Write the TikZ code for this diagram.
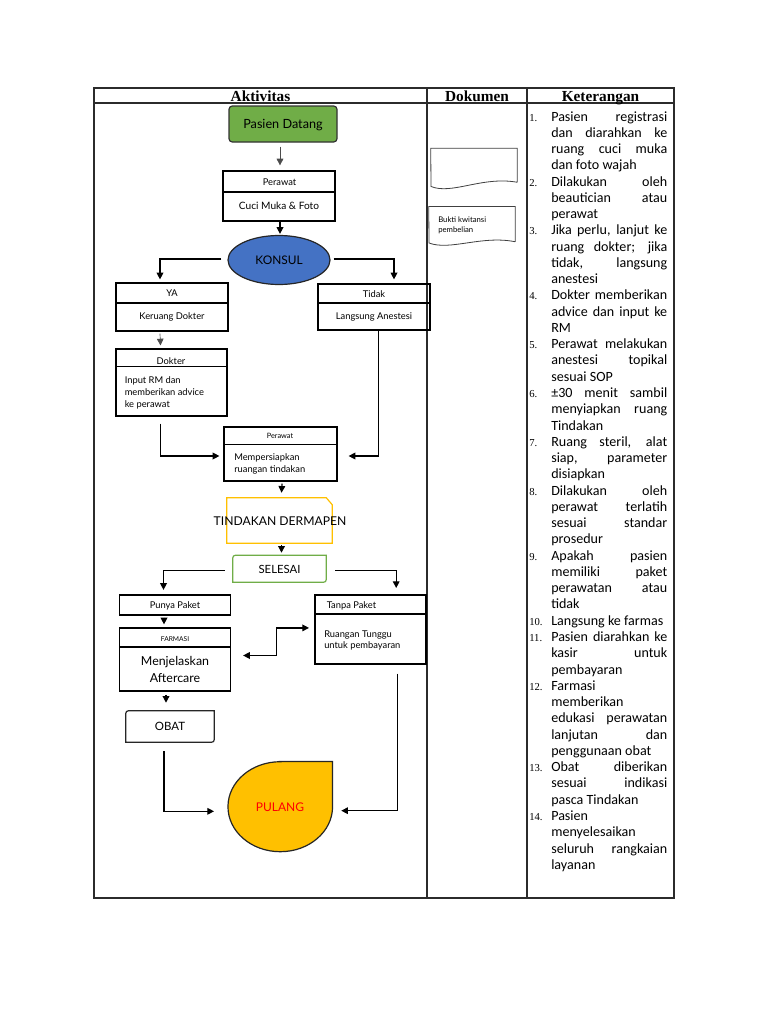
\documentclass[tikz,border=0pt]{standalone}
\usepackage{fontspec}
\setmainfont{Carlito}
\newfontfamily\lato{Lato}
\newfontfamily\tnr{Liberation Serif}
\usetikzlibrary{arrows.meta,calc,fit,shapes.geometric}
\definecolor{gfill}{HTML}{70AD47}
\definecolor{bfill}{HTML}{4472C4}
\definecolor{yel}{HTML}{FFC000}
\definecolor{tline}{HTML}{2B2B2B}
\newcommand{\lf}[2]{\lato\fontsize{#1}{#2}\selectfont}
\newcommand{\ketfont}{\fontsize{10.55}{12.2}\selectfont}
\newcommand{\ketnum}[1]{\makebox[16.5pt][l]{\tnr\fontsize{8}{9}\selectfont #1}}
\newcommand{\ketj}[2]{\hbox{\ketnum{#1}\makebox[87pt][s]{#2}}}
\newcommand{\ketl}[2]{\hbox{\ketnum{#1}#2}}
\tikzset{
  tbl/.style={draw=tline, line width=0.8pt},
  hdr/.style={inner sep=0pt, anchor=base, font=\tnr\bfseries\fontsize{11.5}{13}\selectfont},
  box/.style={draw=black, line width=0.9pt, inner sep=0pt},
  hidden/.style={inner sep=0pt},
  divln/.style={draw=black, line width=0.9pt},
  txt/.style={inner sep=0pt},
  bt/.style={inner sep=0pt, anchor=base},
  thinarr/.style={draw=gray!60!black, line width=0.5pt, -{Triangle[length=5pt,width=5pt]}},
  arr/.style={draw=black, line width=0.9pt, -{Triangle[length=5pt,width=5pt]}},
  arrboth/.style={draw=black, line width=0.9pt, {Triangle[length=5pt,width=5pt]}-{Triangle[length=5pt,width=5pt]}},
  docln/.style={draw=gray!50!black, line width=0.6pt},
}
\begin{document}
\begin{tikzpicture}[x=0.75pt,y=-0.75pt]
\useasboundingbox (0,0) rectangle (768,1024);
\fill[white] (0,0) rectangle (768,1024);

% ---------- table ----------
\draw[tbl] (94,88) rectangle (674,898);
\draw[tbl] (94,103) -- (674,103);
\draw[tbl] (427,88) -- (427,898);
\draw[tbl] (527,88) -- (527,898);
\node[hdr] (h1) at (260.5,101) {Aktivitas};
\node[hdr] (h2) at (477,101) {Dokumen};
\node[hdr] (h3) at (600.5,101) {Keterangan};

% ---------- flow ----------
\node[box, draw=black!80, fill=gfill, rounded corners=2.5pt, fit={(229,106) (337,142)}] (pd) {};
\node[bt, font=\lf{9.5}{11}] (pdt) at (283,128.6) {Pasien Datang};

\node[box, fit={(223,171) (335,221)}] (b1) {};
\draw[divln] (223,192) -- (335,192);
\node[bt, font=\lf{7}{8}] (b1a) at (279.5,185.9) {Perawat};
\node[bt, font=\lf{7.6}{9}] (b1b) at (279,209.6) {Cuci Muka \& Foto};

\node[ellipse, draw=black!85, line width=0.9pt, fill=bfill, minimum width=76.5pt, minimum height=36.75pt, inner sep=0pt] (konsul) at (279,260) {};
\node[bt, font=\lf{8.9}{10}] (konsult) at (279,264.3) {KONSUL};

\node[box, fit={(116,283) (228,331)}] (ya) {};
\draw[divln] (116,303) -- (228,303);
\node[bt, font=\lf{7}{8}] (yaa) at (172,296.4) {YA};
\node[bt, font=\lf{7}{8}] (yab) at (172,319.4) {Keruang Dokter};

\node[box, fit={(318,284) (430,330)}] (tidak) {};
\draw[divln] (318,303) -- (430,303);
\node[bt, font=\lf{7}{8}] (tia) at (374,297.4) {Tidak};
\node[bt, font=\lf{7}{8}] (tib) at (374,319.4) {Langsung Anestesi};

\node[box, fit={(116,349) (227,416)}] (dok) {};
\draw[divln] (116,366.5) -- (227,366.5);
\node[bt, font=\lf{7}{8}] (doka) at (171,364.8) {Dokter};
\node[txt, anchor=west, align=left, font=\lf{7}{9}] (dokb) at (124.5,393) {Input RM dan\\memberikan advice\\ke perawat};

\node[box, fit={(224,427) (337,481)}] (p2) {};
\draw[divln] (224,444.5) -- (337,444.5);
\node[bt, font=\lf{5.5}{6}] (p2a) at (280,438.6) {Perawat};
\node[txt, anchor=west, align=left, font=\lf{7}{8.5}] (p2b) at (234,464) {Mempersiapkan\\ruangan tindakan};

\node[hidden, fit={(227,498) (332,543)}] (tind) {};
\draw[draw=yel, line width=0.9pt] (tind.south west) -- (tind.north west) -- ($(tind.north east)+(-6,0)$) -- ($(tind.north east)+(0,7)$) -- (tind.south east) -- cycle;
\node[bt, font=\lf{9.1}{10}] (tindt) at (280,525.4) {TINDAKAN DERMAPEN};

\node[hidden, fit={(233,555.5) (326,582)}] (sel) {};
\draw[draw=gfill, line width=0.9pt] (sel.south west) -- ($(sel.north west)+(0,6)$) .. controls (sel.north west) .. ($(sel.north west)+(6,0)$) -- (sel.north east) -- ($(sel.south east)+(0,-6)$) .. controls (sel.south east) .. ($(sel.south east)+(-6,0)$) -- cycle;
\node[bt, font=\lf{8.5}{10}] (selt) at (279.5,573.1) {SELESAI};

\node[box, fit={(119.5,595) (230.5,615)}] (pp) {};
\node[bt, font=\lf{7}{8}] (ppt) at (175,608.4) {Punya Paket};

\node[box, line width=1.5pt, fit={(315,595) (426,664)}] (tp) {};
\draw[divln, line width=1.3pt] (315,614) -- (426,614);
\node[bt, anchor=base west, font=\lf{7}{8}] (tpa) at (326.5,608.1) {Tanpa Paket};
\node[txt, anchor=west, align=left, font=\lf{7}{8.25}] (tpb) at (324,640.7) {Ruangan Tunggu\\untuk pembayaran};

\node[box, fit={(119.5,628) (230.5,691)}] (farm) {};
\draw[divln] (119.5,647) -- (230.5,647);
\node[bt, font=\lf{5}{6}] (farma) at (175,641.1) {FARMASI};
\node[txt, align=center, font=\lf{9.3}{12.2}] (farmb) at (175,669.5) {Menjelaskan\\Aftercare};

\node[hidden, fit={(126,711) (214,742)}] (obat) {};
\draw[draw=black!85, line width=0.9pt] (obat.south west) -- ($(obat.north west)+(0,6)$) .. controls (obat.north west) .. ($(obat.north west)+(6,0)$) -- (obat.north east) -- ($(obat.south east)+(0,-6)$) .. controls (obat.south east) .. ($(obat.south east)+(-6,0)$) -- cycle;
\node[bt, font=\lf{8.6}{10}] (obatt) at (170,730.8) {OBAT};

\node[hidden, fit={(227.7,761.7) (332.3,851.7)}] (pul) {};
\draw[draw=black!85, fill=yel, line width=0.9pt] (pul.north) -- (pul.north east) -- (pul.east) arc[start angle=0, end angle=270, x radius=52.3, y radius=45] -- cycle;
\node[bt, text=red, font=\lf{9}{10}] (pult) at (280,811) {PULANG};

% ---------- connectors ----------
\draw[thinarr] ($(b1.north |- pd.south)+(1,4)$) -- ($(b1.north)+(1,-5)$);
\draw[arr] ($(b1.south)+(1,0)$) -- ($(konsul.north)+(1,-1)$);
\draw[arr] ($(konsul.west)+(-6,-1)$) -| ($(ya.north)+(-12,-3)$);
\draw[arr] ($(konsul.east)+(3,-1)$) -| ($(tidak.north)+(20,-4)$);
\draw[thinarr] ($(ya.south)+(-12,2)$) -- ($(dok.north)+(-11,-3)$);
\draw[arr] ($(dok.south)+(-10.7,7)$) |- ($(p2.west)+(-4,2)$);
\draw[arr] ($(tidak.south)+(4.7,0)$) |- ($(p2.east)+(11,2)$);
\draw[arr] ($(p2.south)+(1.5,2)$) -- ($(tind.north)+(2,-5)$);
\draw[arr] ($(tind.south)+(2,2)$) -- ($(sel.north)+(2,-2.5)$);
\draw[arr] ($(sel.west)+(-8,2)$) -| ($(pp.north)+(-11.5,-4.5)$);
\draw[arr] ($(sel.east)+(9,2)$) -| ($(tp.north)+(25.7,-6)$);
\draw[arr] ($(pp.south)+(-11,2)$) -- ($(farm.north)+(-11,-3)$);
\draw[arrboth] ($(farm.east)+(12,-4)$) -- ++(33.4,0) |- ($(tp.west)+(-5,-1.6)$);
\draw[arr] ($(farm.south)+(-9,3)$) -- ($(obat.north)+(-4,-8)$);
\draw[arr] ($(obat.south)+(-6,9)$) |- ($(pul.west)+(-13.4,4.6)$);
\draw[arr] ($(tp.south)+(26.7,8.7)$) |- ($(pul.east)+(8.7,4)$);

% ---------- documents ----------
\node[hidden, fit={(431,148.5) (517,182)}] (doc1) {};
\draw[docln] (doc1.south east) -- (doc1.north east) -- (doc1.north west) -- (431,186.5) .. controls (452,195) and (482,176) .. (doc1.south east);
\node[hidden, fit={(429,206.7) (515,241.5)}] (doc2) {};
\draw[docln] (doc2.south east) -- (doc2.north east) -- (doc2.north west) -- (429,243) .. controls (450,251) and (482,235) .. (doc2.south east);
\node[txt, anchor=west, align=left, font=\lf{5.8}{7.5}] (doc2t) at (438,225.3) {Bukti kwitansi\\pembelian};

% ---------- keterangan ----------
\node[anchor=base west, inner sep=0pt] (ket) at (529,121) {\vtop{\ketfont
\ketj{1.}{Pasien registrasi}
\ketj{}{dan diarahkan ke}
\ketj{}{ruang cuci muka}
\ketl{}{dan foto wajah}
\ketj{2.}{Dilakukan oleh}
\ketj{}{beautician atau}
\ketl{}{perawat}
\ketj{3.}{Jika perlu, lanjut ke}
\ketj{}{ruang dokter; jika}
\ketj{}{tidak, langsung}
\ketl{}{anestesi}
\ketj{4.}{Dokter memberikan}
\ketj{}{advice dan input ke}
\ketl{}{RM}
\ketj{5.}{Perawat melakukan}
\ketj{}{anestesi topikal}
\ketl{}{sesuai SOP}
\ketj{6.}{±30 menit sambil}
\ketj{}{menyiapkan ruang}
\ketl{}{Tindakan}
\ketj{7.}{Ruang steril, alat}
\ketj{}{siap, parameter}
\ketl{}{disiapkan}
\ketj{8.}{Dilakukan oleh}
\ketj{}{perawat terlatih}
\ketj{}{sesuai standar}
\ketl{}{prosedur}
\ketj{9.}{Apakah pasien}
\ketj{}{memiliki paket}
\ketj{}{perawatan atau}
\ketl{}{tidak}
\ketl{10.}{Langsung ke farmas}
\ketj{11.}{Pasien diarahkan ke}
\ketj{}{kasir untuk}
\ketl{}{pembayaran}
\ketl{12.}{Farmasi}
\ketl{}{memberikan}
\ketj{}{edukasi perawatan}
\ketj{}{lanjutan dan}
\ketl{}{penggunaan obat}
\ketj{13.}{Obat diberikan}
\ketj{}{sesuai indikasi}
\ketl{}{pasca Tindakan}
\ketl{14.}{Pasien}
\ketl{}{menyelesaikan}
\ketj{}{seluruh rangkaian}
\ketl{}{layanan}
}};
\end{tikzpicture}
\end{document}
